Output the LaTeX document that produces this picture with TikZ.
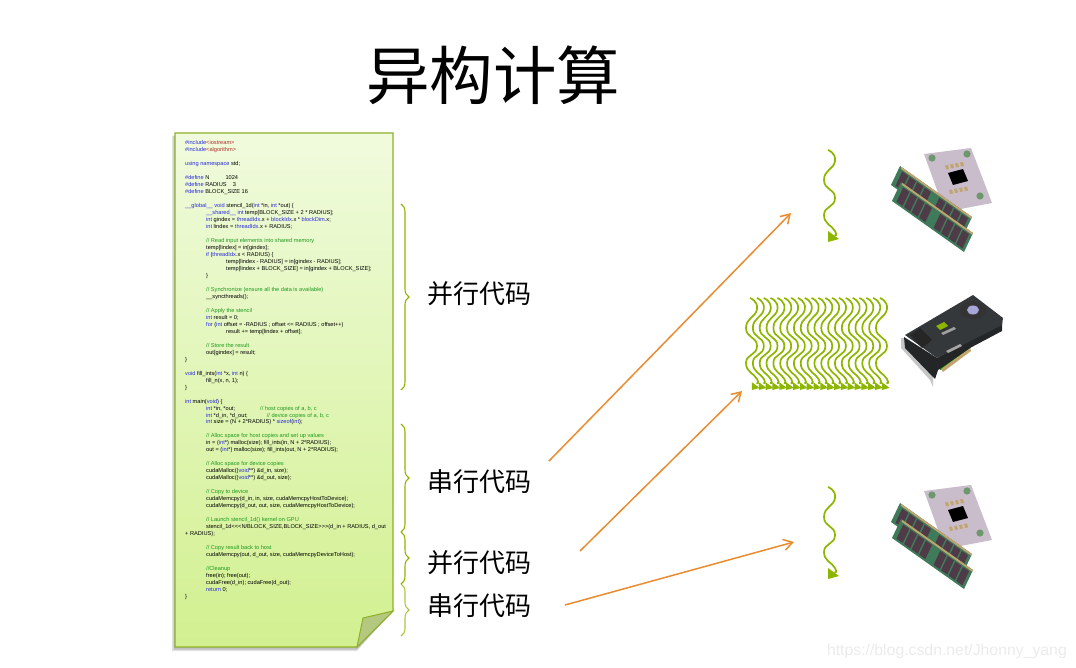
\documentclass[tikz,border=0pt]{standalone}
\usepackage{fontspec}
\usepackage{xcolor}
\usetikzlibrary{arrows.meta,decorations.pathreplacing}
\newfontfamily\cjkfont{Noto Sans CJK SC}
\newfontfamily\codefont{Liberation Sans}
\definecolor{nvgreen}{HTML}{8DB600}
\definecolor{pageedge}{HTML}{8DB02A}
\definecolor{pagetop}{HTML}{F0FBDD}
\definecolor{pagebottom}{HTML}{D2F090}
\definecolor{foldfill}{HTML}{B5C880}
\definecolor{flow}{HTML}{E98B2F}
\definecolor{kwblue}{HTML}{2A2ADC}
\definecolor{cmgreen}{HTML}{1E9A1E}
\definecolor{incred}{HTML}{B03030}
\definecolor{chiplilac}{HTML}{C9BDCB}
\definecolor{ramgreen}{HTML}{3F7A5A}
\definecolor{ramchip}{HTML}{4E3B47}
\definecolor{ramgold}{HTML}{C2A56E}
\definecolor{gpudark}{HTML}{35383B}
\definecolor{gpuside}{HTML}{232527}
\newcommand{\kw}[1]{\textcolor{kwblue}{#1}}
\newcommand{\cmt}[1]{\textcolor{cmgreen}{#1}}
\newcommand{\inc}[1]{\textcolor{incred}{#1}}
\newcommand{\ia}{\hspace*{21pt}}
\newcommand{\ib}{\hspace*{41pt}}
\tikzset{
	label/.style={font=\cjkfont\fontsize{26}{30}\selectfont, text=black, inner sep=0pt},
	codebrace/.style={draw=nvgreen, line width=1.1pt, decorate, decoration={brace, amplitude=8pt}},
	flowarrow/.style={->, draw=flow, line width=1.5pt},
	pics/wave/.style={code={
		\draw[nvgreen, line width=1.7pt] plot[smooth, tension=1] coordinates {(0,0) (7,11) (-4,30) (7,48) (-4,65) (7,81) (6.5,85)};
		\fill[nvgreen] ({6.5-6.5*#1},{92-11*#1}) -- ({6.5-6.5*#1},92) -- ({6.5+4.5*#1},{92-3*#1}) -- cycle;
	}},
	pics/rammodule/.style={code={
		\begin{scope}[x={(72pt,-51pt)}, y={(-9pt,-19pt)}]
			\fill[ramgreen] (0,0) -- (1,0) -- (1,1) -- (0,1) -- cycle;
			\fill[ramgold] (0.02,0) -- (1,0) -- (1,0.09) -- (0.02,0.09) -- cycle;
			\foreach \c in {0.05,0.155,0.26,0.365,0.565,0.67,0.775,0.88}
				\fill[ramchip] (\c,0.16) -- (\c+0.085,0.16) -- (\c+0.085,0.9) -- (\c,0.9) -- cycle;
		\end{scope}
	}},
	pics/cpuram/.style={code={
		\fill[chiplilac] (34,6) -- (81,0) -- (102,55) -- (55,64) -- cycle;
		\fill[black] (58,25) -- (73,21) -- (78,33) -- (63,37) -- cycle;
		\foreach \p/\q in {42/10, 77/6, 90/48}
			\fill[gray!60!green!60!black!70] (\p,\q) circle (3.6);
		\foreach \p in {55,60,65,70}
			\fill[ramgold] (\p,{17.5-(\p-55)*0.2}) -- (\p+3,{17-(\p-55)*0.2}) -- (\p+4,{21-(\p-55)*0.2}) -- (\p+1,{21.5-(\p-55)*0.2}) -- cycle;
		\foreach \p in {59,64,69,74}
			\fill[ramgold] (\p,{42-(\p-59)*0.2}) -- (\p+3,{41.5-(\p-59)*0.2}) -- (\p+4,{45.5-(\p-59)*0.2}) -- (\p+1,{46-(\p-59)*0.2}) -- cycle;
		\pic at (10,18) {rammodule};
		\pic at (11,34) {rammodule};
	}},
}
\begin{document}
\begin{tikzpicture}[x=1pt,y=-1pt,>={Straight Barb[length=9pt,width=11pt]}]
	\useasboundingbox (0,0) rectangle (1076,668);

	\node[font=\cjkfont\fontsize{63.5}{70}\selectfont, inner sep=0pt] (title) at (493,75) {异构计算};

	\fill[black, opacity=.12] (172,136) -- (392,136) -- (392,612) -- (357,651) -- (172,651) -- cycle;
	\fill[black, opacity=.15] (173.5,136) -- (392,136) -- (392,612) -- (357,649.5) -- (173.5,649.5) -- cycle;
	\path[draw=pageedge, line width=1.4pt, top color=pagetop, bottom color=pagebottom]
		(175,133) -- (393,133) -- (393,611) -- (357,647) -- (175,647) -- cycle;
	\path[fill=foldfill, draw=pageedge, line width=1pt] (393,611) -- (363,618) -- (357,647) -- cycle;

	\node[anchor=north west, inner sep=0pt, align=left, font=\codefont\fontsize{5.65}{6.985}\selectfont] (code) at (185,140.3) {%
		\kw{\#include}\inc{<iostream>}\\
		\kw{\#include}\inc{<algorithm>}\\
		\mbox{}\\
		\kw{using namespace} std;\\
		\mbox{}\\
		\kw{\#define} N \hspace{13pt} 1024\\
		\kw{\#define} RADIUS \hspace{3pt} 3\\
		\kw{\#define} BLOCK\_SIZE 16\\
		\mbox{}\\
		\kw{\_\_global\_\_ void} stencil\_1d(\kw{int} *in, \kw{int} *out) \{\\
		\ia \kw{\_\_shared\_\_ int} temp[BLOCK\_SIZE + 2 * RADIUS];\\
		\ia \kw{int} gindex = \kw{threadIdx}.x + \kw{blockIdx}.x * \kw{blockDim}.x;\\
		\ia \kw{int} lindex = \kw{threadIdx}.x + RADIUS;\\
		\mbox{}\\
		\ia \cmt{// Read input elements into shared memory}\\
		\ia temp[lindex] = in[gindex];\\
		\ia \kw{if} (\kw{threadIdx}.x < RADIUS) \{\\
		\ib temp[lindex - RADIUS] = in[gindex - RADIUS];\\
		\ib temp[lindex + BLOCK\_SIZE] = in[gindex + BLOCK\_SIZE];\\
		\ia \}\\
		\mbox{}\\
		\ia \cmt{// Synchronize (ensure all the data is available)}\\
		\ia \_\_syncthreads();\\
		\mbox{}\\
		\ia \cmt{// Apply the stencil}\\
		\ia \kw{int} result = 0;\\
		\ia \kw{for} (\kw{int} offset = -RADIUS ; offset <= RADIUS ; offset++)\\
		\ib result += temp[lindex + offset];\\
		\mbox{}\\
		\ia \cmt{// Store the result}\\
		\ia out[gindex] = result;\\
		\}\\
		\mbox{}\\
		\kw{void} fill\_ints(\kw{int} *x, \kw{int} n) \{\\
		\ia fill\_n(x, n, 1);\\
		\}\\
		\mbox{}\\
		\kw{int} main(\kw{void}) \{\\
		\ia \kw{int} *in, *out; \hspace{22pt} \cmt{// host copies of a, b, c}\\
		\ia \kw{int} *d\_in, *d\_out; \hspace{16pt} \cmt{// device copies of a, b, c}\\
		\ia \kw{int} size = (N + 2*RADIUS) * \kw{sizeof}(\kw{int});\\
		\mbox{}\\
		\ia \cmt{// Alloc space for host copies and set up values}\\
		\ia in = (\kw{int}*) malloc(size); fill\_ints(in, N + 2*RADIUS);\\
		\ia out = (\kw{int}*) malloc(size); fill\_ints(out, N + 2*RADIUS);\\
		\mbox{}\\
		\ia \cmt{// Alloc space for device copies}\\
		\ia cudaMalloc((\kw{void}**) \&d\_in, size);\\
		\ia cudaMalloc((\kw{void}**) \&d\_out, size);\\
		\mbox{}\\
		\ia \cmt{// Copy to device}\\
		\ia cudaMemcpy(d\_in, in, size, cudaMemcpyHostToDevice);\\
		\ia cudaMemcpy(d\_out, out, size, cudaMemcpyHostToDevice);\\
		\mbox{}\\
		\ia \cmt{// Launch stencil\_1d() kernel on GPU}\\
		\ia stencil\_1d<<<N/BLOCK\_SIZE,BLOCK\_SIZE>>>(d\_in + RADIUS, d\_out\\
		+ RADIUS);\\
		\mbox{}\\
		\ia \cmt{// Copy result back to host}\\
		\ia cudaMemcpy(out, d\_out, size, cudaMemcpyDeviceToHost);\\
		\mbox{}\\
		\ia \cmt{//Cleanup}\\
		\ia free(in); free(out);\\
		\ia cudaFree(d\_in); cudaFree(d\_out);\\
		\ia \kw{return} 0;\\
		\}%
	};

	\coordinate (brace1t) at (401,204);
	\coordinate (brace1b) at (401,390);
	\coordinate (brace2t) at (401,424);
	\coordinate (brace2b) at (401,532);
	\coordinate (brace3b) at (401,584);
	\coordinate (brace4b) at (401,636);
	\draw[codebrace] (brace1t) -- (brace1b);
	\draw[codebrace] (brace2t) -- (brace2b);
	\draw[codebrace] (brace2b) -- (brace3b);
	\draw[codebrace, draw=nvgreen!75!white] (brace3b) -- (brace4b);

	\node[label] (par1) at (479,294) {并行代码};
	\node[label] (ser1) at (479,482) {串行代码};
	\node[label] (par2) at (479,563) {并行代码};
	\node[label] (ser2) at (479,606) {串行代码};

	\coordinate (from1) at (549,461);
	\coordinate (to1) at (791,213);
	\coordinate (from2) at (580,551);
	\coordinate (to2) at (742,391);
	\coordinate (from3) at (565,605);
	\coordinate (to3) at (794,542);
	\draw[flowarrow] (from1) -- (to1);
	\draw[flowarrow] (from2) -- (to2);
	\draw[flowarrow] (from3) -- (to3);

	\pic at (828,150) {wave=1};
	\pic at (828,487) {wave=1};
	\foreach \i in {0,...,19}
		\pic at ({750+\i*6.84},298) {wave=0.7};

	\pic at (890,148) {cpuram};
	\pic at (890,485) {cpuram};

	% graphics card
	\fill[green!50!black] (935,367) -- (972,343) -- (970,349) -- (941,370) -- cycle;
	\fill[ramgold] (941,369) -- (970,348) -- (971,351) -- (943,372) -- cycle;
	\fill[gray!45] (901,338) -- (904,338) -- (933,376) -- (933,387) -- (930,380) -- (901,348) -- cycle;
	\fill[gpuside] (904,337) -- (937,358) -- (1002,322) -- (1002,331) -- (970,348) -- (938,370) -- (935,379) -- (905,348) -- cycle;
	\fill[gpudark] (905,335) -- (973,295) -- (1003,318) -- (1002,325) -- (937,358) -- cycle;
	\fill[black!85] (910,335) -- (920,328) -- (932,340) -- (922,348) -- cycle;
	\fill[black!80] (973,310) circle[x radius=13, y radius=9];
	\fill[gray!60!blue!50!white] (973,310) circle[x radius=6, y radius=4.5];
	\fill[nvgreen] (936,326) -- (944,322) -- (948,326) -- (940,330) -- cycle;
	\fill[gray!75] (941,333) -- (954,327) -- (956,329) -- (943,335) -- cycle;
	\fill[gray!70] (946,351) -- (960,344) -- (962,346) -- (948,353) -- cycle;

	\node[font=\codefont\fontsize{15.8}{20}\selectfont, text=black!8, inner sep=0pt, anchor=base east] (mark) at (1067,655) {https://blog.csdn.net/Jhonny\_yang};
\end{tikzpicture}
\end{document}
